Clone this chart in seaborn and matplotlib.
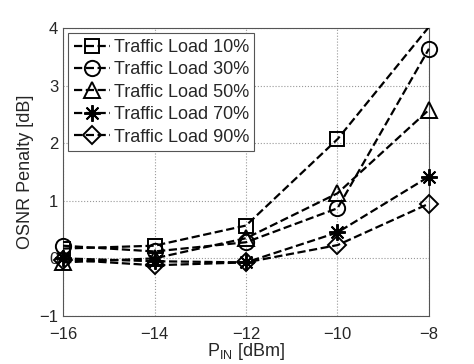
import numpy as np
import pandas as pd
import seaborn as sns
import matplotlib.pyplot as plt

p_in = [-16, -14, -12, -10, -8]
load_10 = [0.17, 0.22, 0.57, 2.07, 4.02]
load_30 = [0.22, 0.12, 0.28, 0.87, 3.64]
load_50 = [-0.07, 0.0, 0.35, 1.13, 2.58]
load_70 = [0.0, -0.05, -0.07, 0.45, 1.42]
load_90 = [-0.02, -0.12, -0.07, 0.23, 0.95]

labels = ["Traffic Load 10%", "Traffic Load 30%", "Traffic Load 50%",
          "Traffic Load 70%", "Traffic Load 90%"]
series = [load_10, load_30, load_50, load_70, load_90]
markers = ["s", "o", "^", (8, 2, 0), "D"]
sizes = [10, 11, 11, 12, 9]

sns.set_style("white")
plt.rcParams["font.family"] = ["Liberation Sans", "DejaVu Sans"]
plt.rcParams["mathtext.default"] = "regular"

fig = plt.figure(figsize=(4.74, 3.64), dpi=100)
ax = fig.add_axes([0.133, 0.132, 0.772, 0.791])

for lab, vals, m, ms in zip(labels, series, markers, sizes):
    df = pd.DataFrame({"x": p_in, "y": vals})
    sns.lineplot(data=df, x="x", y="y", ax=ax, color="k", linestyle="--",
                 dashes=(5, 3), linewidth=1.6, marker=m, markersize=ms,
                 markerfacecolor="none", markeredgecolor="k",
                 markeredgewidth=1.4, label=lab, clip_on=False, zorder=3)

ax.set_xlim(-16, -8)
ax.set_ylim(-1, 4)
ax.set_xticks(p_in)
ax.set_yticks([-1, 0, 1, 2, 3, 4])
ax.grid(True, linestyle=":", color="#999999", linewidth=0.8)
ax.tick_params(direction="in", length=4, labelsize=12, color="#555555")
ax.tick_params(axis="x", pad=8)
for s in ax.spines.values():
    s.set_color("#555555")
    s.set_linewidth(0.8)

ax.set_xlabel("P$_{IN}$ [dBm]", fontsize=13, labelpad=-1)
ax.set_ylabel("OSNR Penalty [dB]", fontsize=13)

leg = ax.legend(loc="upper left", fontsize=13, handlelength=2.0,
                handletextpad=0.2, labelspacing=0.3, borderpad=0.3,
                fancybox=False, framealpha=1, edgecolor="#555555",
                borderaxespad=0.3)
leg.get_frame().set_linewidth(0.8)

# 10% point at -8 dBm lies just outside the axis range: hide its marker
first = ax.lines[0]
first.set_clip_on(True)
first.set_markevery([0, 1, 2, 3])

fig.savefig("out.png", dpi=100)
